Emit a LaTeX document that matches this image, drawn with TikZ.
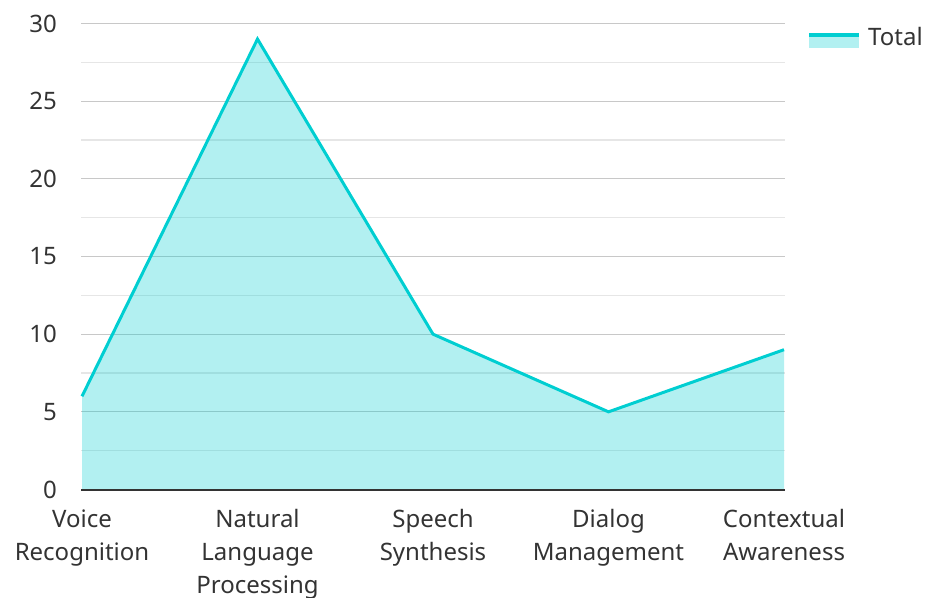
\documentclass[tikz,border=0pt]{standalone}
\usepackage{fontspec}
\setmainfont{Noto Sans}
\definecolor{linec}{RGB}{0,206,209}
\definecolor{txt}{RGB}{51,51,51}
\definecolor{majg}{RGB}{200,200,200}
\definecolor{ming}{RGB}{230,230,230}
\begin{document}
\begin{tikzpicture}[x=1pt,y=-1pt,
  lbl/.style={font=\fontsize{24}{33}\selectfont,text=txt,inner sep=0pt},
  ticklbl/.style={lbl,anchor=east},
  catlbl/.style={lbl,anchor=north,align=center},
  majgrid/.style={draw=majg,line width=1.3pt},
  mingrid/.style={draw=ming,line width=1.3pt},
  series/.style={draw=linec,line width=3pt,line join=miter},
  area/.style={fill=linec,fill opacity=0.3}]
\useasboundingbox (0,0) rectangle (925,597);
% grid
\foreach \v in {2.5,7.5,...,27.5}{
  \draw[mingrid] (81,{489.5-15.533*\v}) -- (785,{489.5-15.533*\v});}
\foreach \v in {5,10,...,30}{
  \draw[majgrid] (81,{489.5-15.533*\v}) -- (785,{489.5-15.533*\v});}
% tick labels
\foreach \v in {0,5,...,30}{
  \node[ticklbl] (t\v) at (57,{489.5-15.533*\v}) {\v};}
% data points
\coordinate (p1) at (82,{489.5-15.533*6});
\coordinate (p2) at (257.5,{489.5-15.533*29});
\coordinate (p3) at (433,{489.5-15.533*10});
\coordinate (p4) at (608.5,{489.5-15.533*5});
\coordinate (p5) at (784,{489.5-15.533*9});
\coordinate (b1) at (82,489.5);
\coordinate (b5) at (784,489.5);
\fill[area] (b1) -- (p1) -- (p2) -- (p3) -- (p4) -- (p5) -- (b5) -- cycle;
\draw[series] (p1) -- (p2) -- (p3) -- (p4) -- (p5);
% axis
\coordinate (a0) at (81,489.5);
\coordinate (a1) at (785,489.5);
\draw[txt,line width=2pt] (a0) -- (a1);
% category labels
\node[catlbl] (c1) at (82,510) {Voice\\Recognition};
\node[catlbl] (c2) at (257.5,509) {Natural\\Language\\Processing};
\node[catlbl] (c3) at (433,509.5) {Speech\\Synthesis};
\node[catlbl] (c4) at (608.5,509.5) {Dialog\\Management};
\node[catlbl] (c5) at (784,509) {Contextual\\Awareness};
% legend
\fill[linec,opacity=0.3] (809,35) rectangle (859,47.5);
\coordinate (l0) at (809,35);
\coordinate (l1) at (859,35);
\draw[linec,line width=3.5pt] (l0) -- (l1);
\node[lbl,anchor=west] (leg) at (868,36) {Total};
\end{tikzpicture}
\end{document}
